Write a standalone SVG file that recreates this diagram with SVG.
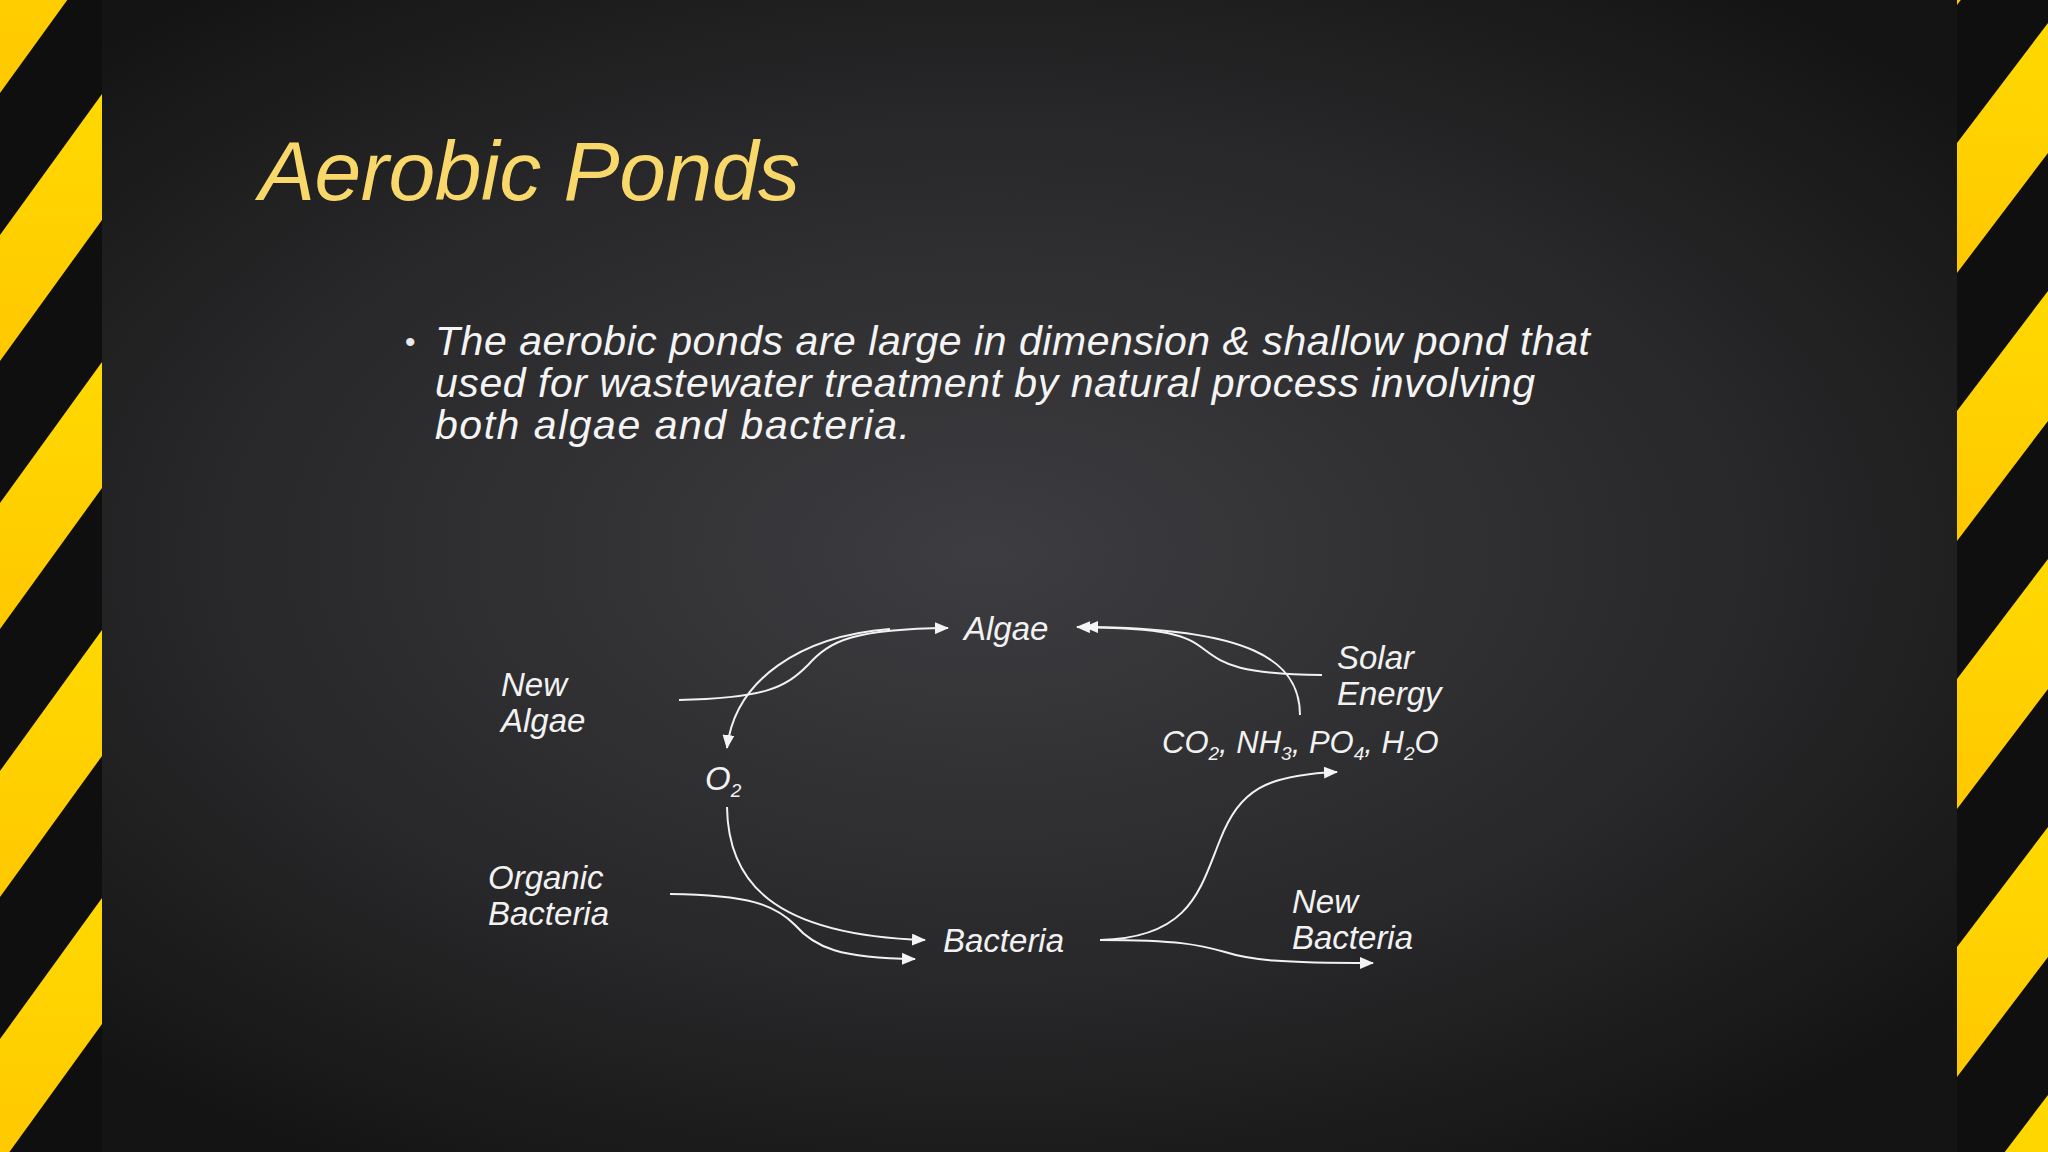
<svg xmlns="http://www.w3.org/2000/svg" xmlns:xlink="http://www.w3.org/1999/xlink" width="2048" height="1152" viewBox="0 0 2048 1152">
<defs>
<radialGradient id="bg" cx="48%" cy="48%" r="62%">
<stop offset="0" stop-color="#3d3c40"/>
<stop offset="0.6" stop-color="#28282a"/>
<stop offset="1" stop-color="#141414"/>
</radialGradient>
<linearGradient id="yel" x1="0" y1="0" x2="0" y2="1">
<stop offset="0" stop-color="#ffd900"/>
<stop offset="1" stop-color="#ffc800"/>
</linearGradient>
<clipPath id="clipL"><rect x="0" y="0" width="102" height="1152"/></clipPath>
<clipPath id="clipR"><rect x="1957" y="0" width="91" height="1152"/></clipPath>
<polygon id="stripeL" points="102,0 102,126 0,267 0,141" fill="url(#yel)"/>
<polygon id="stripeR" points="1957,0 2048,-120 2048,10 1957,130" fill="url(#yel)"/>
<marker id="arr" viewBox="0 0 14 12" markerWidth="14" markerHeight="12" refX="13" refY="6" orient="auto" markerUnits="userSpaceOnUse">
<path d="M0,0 L14,6 L0,12 z" fill="#f4f4f4"/>
</marker>
<style>
.lbl{font-family:"Liberation Sans",Arial,sans-serif;font-style:italic;font-size:33px;fill:#f2f2f2}
.body{font-family:"Liberation Sans",Arial,sans-serif;font-style:italic;font-size:41px;fill:#f4f4f4}
.title{font-family:"Liberation Sans",Arial,sans-serif;font-style:italic;font-size:84px;fill:#f8d86a}
.sub{font-size:19px}
.con path{fill:none;stroke:#f2f2f2;stroke-width:2;marker-end:url(#arr)}
</style>
</defs>
<rect width="2048" height="1152" fill="url(#bg)"/>
<g id="strip-left">
<rect x="0" y="0" width="102" height="1152" fill="#0f0f0f"/>
<g clip-path="url(#clipL)">
<use xlink:href="#stripeL" y="-174"/>
<use xlink:href="#stripeL" y="94"/>
<use xlink:href="#stripeL" y="362"/>
<use xlink:href="#stripeL" y="630"/>
<use xlink:href="#stripeL" y="898"/>
</g>
</g>
<g id="strip-right">
<rect x="1957" y="0" width="91" height="1152" fill="#0f0f0f"/>
<g clip-path="url(#clipR)">
<use xlink:href="#stripeR" y="-125"/>
<use xlink:href="#stripeR" y="143"/>
<use xlink:href="#stripeR" y="411"/>
<use xlink:href="#stripeR" y="679"/>
<use xlink:href="#stripeR" y="947"/>
<use xlink:href="#stripeR" y="1215"/>
</g>
</g>
<g id="title"><text class="title" x="259" y="200" textLength="541">Aerobic Ponds</text></g>
<g id="bullet">
<text x="405" y="352" style="font-family:'Liberation Sans',Arial,sans-serif;font-size:30px;fill:#e8e8e8">•</text>
<text class="body" x="435" y="355" textLength="1155" lengthAdjust="spacing">The aerobic ponds are large in dimension &amp; shallow pond that</text>
<text class="body" x="435" y="397" textLength="1100" lengthAdjust="spacing">used for wastewater treatment by natural process involving</text>
<text class="body" x="435" y="439" textLength="475" lengthAdjust="spacing">both algae and bacteria.</text>
</g>
<g id="node-algae"><text class="lbl" x="964" y="640">Algae</text></g>
<g id="node-new-algae"><text class="lbl" x="501" y="696">New</text><text class="lbl" x="501" y="732">Algae</text></g>
<g id="node-o2"><text class="lbl" x="705" y="790">O<tspan class="sub" dy="7">2</tspan></text></g>
<g id="node-organic-bacteria"><text class="lbl" x="488" y="889">Organic</text><text class="lbl" x="488" y="925">Bacteria</text></g>
<g id="node-bacteria"><text class="lbl" x="943" y="952">Bacteria</text></g>
<g id="node-solar"><text class="lbl" x="1337" y="669">Solar</text><text class="lbl" x="1337" y="705">Energy</text></g>
<g id="node-nutrients"><text class="lbl" x="1162" y="753" style="font-size:31px">CO<tspan class="sub" dy="7">2</tspan><tspan dy="-7">, NH</tspan><tspan class="sub" dy="7">3</tspan><tspan dy="-7">, PO</tspan><tspan class="sub" dy="7">4</tspan><tspan dy="-7">, H</tspan><tspan class="sub" dy="7">2</tspan><tspan dy="-7">O</tspan></text></g>
<g id="node-new-bacteria"><text class="lbl" x="1292" y="913">New</text><text class="lbl" x="1292" y="949">Bacteria</text></g>
<g id="connectors" class="con">
<path d="M679,700 C765,698 785,688 808,665 C830,640 855,629 948,628"/>
<path d="M890,629 C800,636 735,680 727,748"/>
<path d="M727,807 C728,880 770,935 925,940"/>
<path d="M670,894 C750,895 775,905 795,925 C815,948 840,958 915,959"/>
<path d="M1322,675 C1240,674 1225,665 1205,650 C1185,635 1170,628 1077,627"/>
<path d="M1300,715 C1300,660 1250,628 1085,627"/>
<path d="M1100,940 C1190,938 1200,890 1220,840 C1240,790 1265,775 1337,772"/>
<path d="M1100,940 C1180,940 1200,945 1225,952 C1250,960 1280,963 1373,963"/>
</g>
</svg>
